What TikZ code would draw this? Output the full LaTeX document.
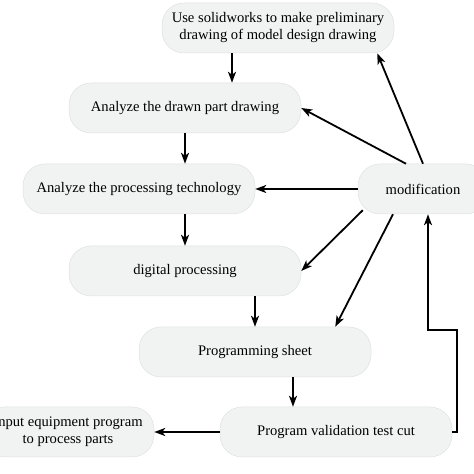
\documentclass[tikz,border=0pt]{standalone}
\usepackage{fontspec}
\setmainfont{Liberation Serif}
\usetikzlibrary{arrows.meta}
\definecolor{boxfill}{RGB}{241,242,242}
\definecolor{boxline}{RGB}{222,226,226}

\begin{document}
\begin{tikzpicture}

\tikzset{%
every node/.style={fill=boxfill, draw=boxline, line width=.05em, rounded corners=22pt, minimum width=232pt, minimum height=50pt, align=center, font=\fontsize{14.6}{17}\selectfont},%
every path/.style={->, >={Stealth[length=11pt, width=8pt, inset=3pt]}, line width=1.8pt}%
}

\tikzstyle{short}=[minimum width=130pt]
\tikzstyle{outbox}=[minimum width=172pt]

\path[-, use as bounding box] (0,0) rectangle (474pt,474pt);

\node (sw) at (278pt,446pt) {Use solidworks to make preliminary\\drawing of model design drawing};
\node[below of=sw, node distance=80pt, xshift=-93pt] (part) {Analyze the drawn part drawing};
\node[below of=part, node distance=81pt, xshift=-46pt] (tech) {Analyze the processing technology};
\node[short, right of=tech, node distance=284pt] (mod) {modification};
\node[below of=tech, node distance=82pt, xshift=46pt] (dig) {digital processing};
\node[below of=dig, node distance=81pt, xshift=70pt] (prog) {Programming sheet};
\node[below of=prog, node distance=80pt, xshift=81pt] (valid) {Program validation test cut};
\node[outbox, left of=valid, node distance=268pt] (input) {Input equipment program\\to process parts};

% main flow
\draw ([xshift=-46pt]sw.south) to ([xshift=-46pt]sw.south |- part.north);
\draw (part.south) to (part.south |- tech.north);
\draw (dig.north |- tech.south) to (dig.north);
\draw (prog.north |- dig.south) to (prog.north);
\draw ([xshift=38pt]prog.south) to ([xshift=38pt]prog.south |- valid.north);
\draw (valid.west) to (input.east);

% back to modification
\coordinate (bend) at (457pt,144pt);
\draw (valid.east) -| (bend) -| ([xshift=5pt]mod.south);

\draw (mod.north) to ([xshift=-17pt]sw.south east);
\draw ([xshift=-17pt]mod.north) to (part.east);
\draw (mod.west) to (tech.east);
\draw ([xshift=5pt,yshift=4pt]mod.south west) to (dig.east);
\draw ([xshift=-30pt]mod.south) to ([xshift=-36pt]prog.north east);

\end{tikzpicture}
\end{document}
